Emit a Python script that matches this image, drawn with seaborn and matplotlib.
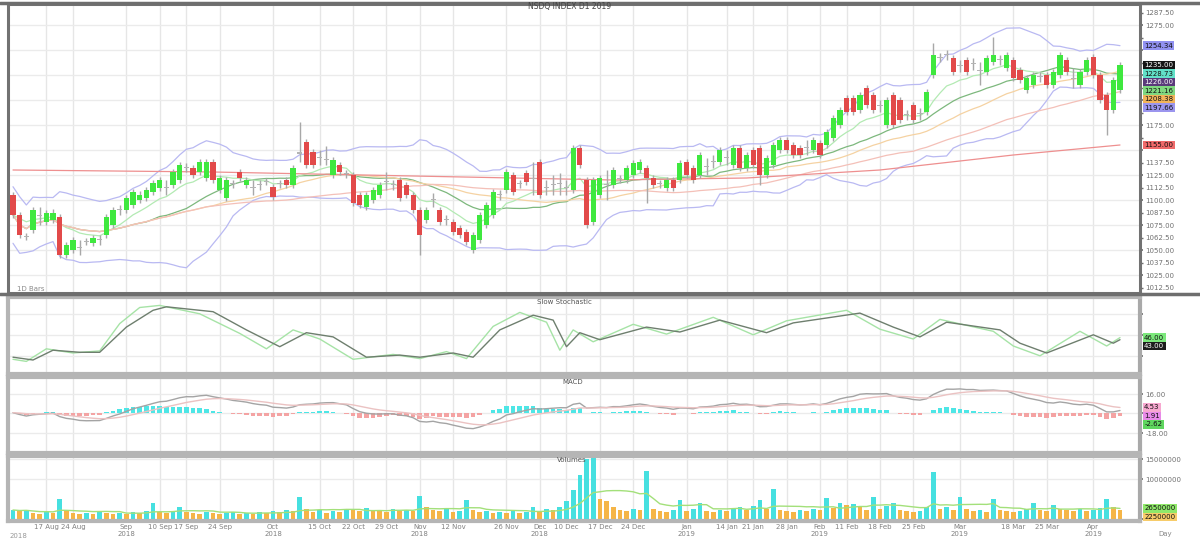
import numpy as np
import pandas as pd
import matplotlib
matplotlib.use("Agg")
import matplotlib.pyplot as plt
from matplotlib.lines import Line2D
import seaborn as sns

sns.set_theme(style="white")
plt.rcParams['font.family'] = ['DejaVu Sans']

# daily OHLC (one value per trading day)
open_ = [1105, 1085, 1063, 1070, 1084, 1078, 1080, 1083, 1045, 1050,
         1052, 1058, 1057, 1060, 1065, 1075, 1090, 1090, 1095, 1100,
         1102, 1108, 1112, 1112, 1115, 1120, 1132, 1132, 1128, 1122,
         1138, 1110, 1102, 1116, 1128, 1115, 1112, 1115, 1118, 1113,
         1116, 1120, 1115, 1146, 1158, 1148, 1142, 1140, 1125, 1135,
         1126, 1125, 1105, 1093, 1100, 1105, 1118, 1115, 1120, 1115,
         1105, 1090, 1080, 1100, 1090, 1080, 1078, 1072, 1068, 1050,
         1060, 1075, 1085, 1105, 1110, 1125, 1116, 1127, 1121, 1138,
         1112, 1115, 1116, 1112, 1110, 1152, 1120, 1078, 1105, 1115,
         1115, 1121, 1120, 1125, 1130, 1132, 1122, 1116, 1112, 1120,
         1120, 1138, 1132, 1125, 1133, 1138, 1138, 1142, 1135, 1152,
         1132, 1150, 1152, 1125, 1135, 1150, 1160, 1155, 1152, 1152,
         1150, 1157, 1155, 1162, 1175, 1202, 1202, 1190, 1212, 1205,
         1194, 1175, 1205, 1200, 1185, 1195, 1186, 1188, 1225, 1242,
         1245, 1242, 1234, 1240, 1236, 1229, 1228, 1238, 1240, 1232,
         1240, 1230, 1210, 1215, 1223, 1225, 1215, 1225, 1240, 1221,
         1215, 1228, 1243, 1225, 1205, 1190, 1210]
high = [1108, 1088, 1067, 1093, 1093, 1090, 1091, 1086, 1058, 1063,
        1060, 1062, 1065, 1065, 1086, 1093, 1095, 1105, 1111, 1109,
        1113, 1120, 1123, 1120, 1131, 1138, 1137, 1135, 1141, 1141,
        1141, 1125, 1123, 1120, 1131, 1123, 1120, 1120, 1122, 1116,
        1120, 1123, 1135, 1178, 1161, 1151, 1150, 1154, 1143, 1138,
        1130, 1128, 1108, 1108, 1113, 1118, 1128, 1120, 1123, 1118,
        1108, 1093, 1093, 1107, 1093, 1085, 1081, 1075, 1071, 1068,
        1088, 1098, 1111, 1110, 1131, 1128, 1120, 1130, 1138, 1141,
        1120, 1125, 1127, 1120, 1155, 1155, 1123, 1123, 1125, 1130,
        1133, 1125, 1135, 1140, 1141, 1135, 1125, 1120, 1123, 1123,
        1140, 1141, 1135, 1148, 1142, 1145, 1153, 1150, 1155, 1155,
        1148, 1153, 1155, 1145, 1158, 1163, 1163, 1158, 1155, 1160,
        1163, 1160, 1171, 1185, 1193, 1205, 1205, 1208, 1215, 1208,
        1200, 1203, 1208, 1203, 1190, 1198, 1192, 1211, 1257, 1247,
        1250, 1245, 1240, 1243, 1242, 1238, 1245, 1263, 1245, 1248,
        1243, 1233, 1225, 1228, 1228, 1228, 1231, 1248, 1243, 1232,
        1231, 1243, 1246, 1228, 1208, 1223, 1238]
low = [1082, 1062, 1060, 1067, 1075, 1075, 1077, 1042, 1042, 1047,
       1045, 1055, 1054, 1055, 1062, 1072, 1085, 1087, 1092, 1097,
       1099, 1105, 1109, 1105, 1112, 1117, 1128, 1122, 1125, 1119,
       1117, 1107, 1099, 1112, 1119, 1112, 1105, 1110, 1115, 1100,
       1112, 1112, 1112, 1138, 1132, 1132, 1135, 1135, 1122, 1125,
       1122, 1094, 1092, 1090, 1097, 1102, 1110, 1110, 1099, 1102,
       1087, 1045, 1077, 1093, 1075, 1075, 1065, 1062, 1055, 1047,
       1057, 1072, 1082, 1100, 1107, 1105, 1112, 1115, 1105, 1102,
       1105, 1105, 1105, 1105, 1107, 1132, 1072, 1075, 1102, 1100,
       1112, 1117, 1117, 1122, 1127, 1097, 1112, 1112, 1109, 1109,
       1117, 1122, 1117, 1122, 1125, 1132, 1135, 1135, 1132, 1129,
       1129, 1132, 1115, 1122, 1132, 1147, 1147, 1142, 1142, 1145,
       1147, 1142, 1152, 1159, 1172, 1185, 1185, 1187, 1192, 1187,
       1188, 1172, 1172, 1177, 1180, 1177, 1180, 1185, 1222, 1238,
       1240, 1225, 1228, 1225, 1230, 1215, 1225, 1235, 1235, 1229,
       1219, 1217, 1207, 1212, 1218, 1212, 1212, 1222, 1225, 1212,
       1212, 1225, 1222, 1197, 1165, 1187, 1207]
close = [1085, 1065, 1064, 1090, 1085, 1087, 1087, 1045, 1055, 1060,
         1053, 1059, 1062, 1061, 1083, 1090, 1091, 1102, 1108, 1105,
         1110, 1117, 1120, 1113, 1128, 1135, 1133, 1125, 1138, 1138,
         1120, 1122, 1120, 1117, 1122, 1120, 1113, 1116, 1119, 1103,
         1117, 1115, 1132, 1148, 1135, 1135, 1143, 1141, 1140, 1128,
         1127, 1097, 1095, 1105, 1110, 1115, 1119, 1116, 1102, 1105,
         1090, 1065, 1090, 1101, 1078, 1081, 1068, 1065, 1058, 1065,
         1085, 1095, 1108, 1106, 1128, 1108, 1117, 1118, 1122, 1105,
         1113, 1116, 1117, 1113, 1152, 1135, 1075, 1120, 1122, 1116,
         1130, 1122, 1132, 1137, 1138, 1122, 1115, 1117, 1120, 1112,
         1137, 1125, 1120, 1145, 1134, 1139, 1150, 1143, 1152, 1132,
         1145, 1135, 1125, 1142, 1155, 1160, 1150, 1145, 1145, 1153,
         1160, 1145, 1168, 1182, 1190, 1188, 1188, 1205, 1195, 1190,
         1195, 1200, 1175, 1180, 1186, 1180, 1187, 1208, 1245, 1243,
         1246, 1228, 1235, 1228, 1237, 1230, 1242, 1245, 1241, 1245,
         1222, 1220, 1222, 1225, 1224, 1215, 1228, 1245, 1228, 1222,
         1228, 1240, 1225, 1200, 1190, 1220, 1235]
# volume in thousands
volume_k = [2250, 2000, 2250, 1500, 1250, 1750, 1500, 5000, 2000, 1500,
            1250, 1500, 1250, 1750, 1500, 1250, 1500, 1250, 1750, 1500,
            2000, 4000, 1750, 1500, 2000, 3000, 1750, 1500, 1250, 1750,
            1500, 1250, 1500, 1750, 1250, 1500, 1250, 1750, 1500, 2000,
            1750, 2250, 2000, 5500, 2500, 1750, 2250, 1500, 2000, 1750,
            2500, 2250, 2000, 2750, 2250, 2000, 1750, 2500, 2000, 2250,
            2000, 5750, 3000, 2250, 2000, 2500, 1750, 2000, 4750, 2250,
            1750, 2000, 1500, 1750, 1500, 2000, 1500, 1750, 3000, 2000,
            2500, 2250, 3000, 4500, 7250, 11000, 15000, 15500, 5000, 4500,
            3000, 2250, 2000, 2500, 2250, 12000, 2500, 2000, 1750, 2250,
            4750, 2000, 2500, 4000, 2000, 1750, 2250, 2000, 2500, 3000,
            2250, 3250, 4750, 2500, 7500, 2250, 2000, 1750, 2250, 2000,
            2500, 2250, 5250, 2750, 4000, 3500, 3750, 3000, 2250, 5500,
            2500, 3250, 4000, 2250, 2000, 1750, 2000, 3000, 11750, 2500,
            3000, 2250, 5500, 2500, 2000, 2250, 1750, 5000, 2250, 2000,
            1750, 2000, 2500, 4000, 2250, 2000, 3500, 2500, 2250, 2000,
            2500, 2000, 2250, 2750, 5000, 3000, 2250]

# long moving average (its history lies before the visible window)
long_ma_pos = [0, 30, 60, 90, 110, 130, 150, 166]
long_ma_val = [1130, 1128, 1124, 1120, 1122, 1130, 1145, 1155]

# slow stochastic (bar index -> value)
stoch_k_pos = [0, 3, 6, 10, 13, 17, 21, 23, 30, 35, 40, 44, 48, 53, 58, 61, 66, 69, 73,
               78, 81, 83, 85, 88, 95, 100, 106, 113, 117, 127, 132, 136, 140, 148,
               151, 155, 162, 165, 166]
stoch_k = [18, 14, 28, 25, 25, 61, 85, 90, 83, 57, 33, 53, 47, 18, 21, 18, 24, 18, 57,
           78, 71, 33, 53, 43, 61, 54, 71, 53, 67, 81, 61, 47, 68, 57,
           38, 24, 50, 38, 43]
stoch_d_pos = [0, 2, 5, 9, 13, 16, 19, 22, 28, 34, 38, 42, 46, 51, 57, 61, 65, 68, 72,
               76, 80, 82, 84, 87, 93, 98, 105, 111, 116, 125, 130, 135, 139, 147,
               150, 154, 160, 164, 166]
stoch_d = [15, 12, 30, 24, 27, 66, 89, 92, 80, 52, 30, 57, 44, 15, 22, 16, 26, 16, 62,
           82, 68, 28, 57, 40, 65, 51, 75, 50, 70, 85, 58, 44, 72, 55,
           34, 20, 55, 34, 46]

# date axis (trading-day index -> label)
tick_pos = [5, 9, 17, 22, 26, 31, 39, 46, 51, 56, 61, 66, 74, 79, 83, 88, 93,
            101, 107, 111, 116, 121, 125, 130, 135, 142, 150, 155, 162]
tick_labels = ["17 Aug", "24 Aug", "Sep\n2018", "10 Sep", "17 Sep", "24 Sep",
               "Oct\n2018", "15 Oct", "22 Oct", "29 Oct", "Nov\n2018", "12 Nov",
               "26 Nov", "Dec\n2018", "10 Dec", "17 Dec", "24 Dec", "Jan\n2019",
               "14 Jan", "21 Jan", "28 Jan", "Feb\n2019", "11 Feb", "18 Feb",
               "25 Feb", "Mar\n2019", "18 Mar", "25 Mar", "Apr\n2019"]

df = pd.DataFrame({'open': open_, 'high': high, 'low': low,
                   'close': close, 'volume': np.array(volume_k) * 1000})
df['i'] = np.arange(len(df))
c = df['close']

# indicators
df['bb_mid'] = c.rolling(20, min_periods=1).mean()
sd = c.rolling(20, min_periods=2).std().bfill()
df['bb_up'] = df['bb_mid'] + 2 * sd
df['bb_lo'] = df['bb_mid'] - 2 * sd
df['ema10'] = c.ewm(span=10, adjust=False).mean()
df['sma30'] = c.rolling(30, min_periods=1).mean()
df['sma50'] = c.rolling(50, min_periods=1).mean()

df['macd'] = c.ewm(span=12, adjust=False).mean() - c.ewm(span=26, adjust=False).mean()
df['signal'] = df['macd'].ewm(span=9, adjust=False).mean()
df['hist'] = df['macd'] - df['signal']
df['vol_ma'] = df['volume'].rolling(10, min_periods=1).mean()

# figure
fig = plt.figure(figsize=(12, 5.41), dpi=100)
LEFT, WIDTH = 8 / 1200, 1132 / 1200


def box(top, bot):
    return [LEFT, 1 - bot / 541, WIDTH, (bot - top) / 541]


ax_p = fig.add_axes(box(4, 293))
ax_s = fig.add_axes(box(297, 374), sharex=ax_p)
ax_m = fig.add_axes(box(377, 453), sharex=ax_p)
ax_v = fig.add_axes(box(456, 521), sharex=ax_p)

GREEN, RED, GREY = '#3fe83f', '#e24a4a', '#b4b4b4'
TICK_COL = '#707070'

# candles
body_col = np.where((df['close'] - df['open']).abs() <= 2, GREY,
                    np.where(df['close'] > df['open'], GREEN, RED))
ax_p.vlines(df['i'], df['low'], df['high'], color='#a8a8a8', lw=1, zorder=3)
ax_p.bar(df['i'], (df['close'] - df['open']).abs().clip(lower=1.5),
         bottom=np.minimum(df['open'], df['close']), width=0.78,
         color=body_col, edgecolor='none', zorder=4)

line_styles = [('bb_up', '#b9b9f2'), ('bb_lo', '#b9b9f2'), ('bb_mid', '#7db87d'),
               ('ema10', '#b3eab3'), ('sma30', '#f5d2a2'), ('sma50', '#f4c0b8')]
for col, colr in line_styles:
    sns.lineplot(x=df['i'], y=df[col], ax=ax_p, color=colr, lw=0.9, legend=False, zorder=2)
sns.lineplot(x=long_ma_pos, y=long_ma_val, ax=ax_p, color='#ee8f8f', lw=0.9, legend=False, zorder=2)
ax_p.set_ylim(1007, 1296)

# stochastic
sns.lineplot(x=stoch_d_pos, y=stoch_d, ax=ax_s, color='#a6e3a6', lw=1, legend=False)
sns.lineplot(x=stoch_k_pos, y=stoch_k, ax=ax_s, color='#6e7f6e', lw=1, legend=False)
ax_s.set_ylim(-6, 104)

# MACD
hist_col = np.where(df['hist'] >= 0, '#4ee6e6', '#f4a3a3')
ax_m.bar(df['i'], df['hist'], width=0.7, color=hist_col, edgecolor='none')
sns.lineplot(x=df['i'], y=df['macd'], ax=ax_m, color='#a4a4a4', lw=1, legend=False)
sns.lineplot(x=df['i'], y=df['signal'], ax=ax_m, color='#ebc2c2', lw=1, legend=False)
ax_m.set_ylim(-35, 31)

# volume
vol_col = np.where(df['volume'].diff().fillna(1) >= 0, '#46e0e0', '#f5b547')
ax_v.bar(df['i'], df['volume'], width=0.7, color=vol_col, edgecolor='none')
sns.lineplot(x=df['i'], y=df['vol_ma'], ax=ax_v, color='#a3e07a', lw=1, legend=False)
ax_v.set_ylim(-0.5e6, 15.75e6)

# shared styling
ax_p.set_xlim(-0.75, 169)
for ax in (ax_p, ax_s, ax_m, ax_v):
    ax.set_xticks(tick_pos)
    ax.grid(axis='x', color='#e6e6e6', lw=1)
    ax.yaxis.tick_right()
    ax.tick_params(axis='y', which='both', labelsize=5, colors=TICK_COL, length=2, pad=2)
    ax.set_xlabel('')
    ax.set_ylabel('')
    ax.set_facecolor('white')
    for s in ax.spines.values():
        s.set_color('#b5b5b5')
        s.set_linewidth(3)
    ax.spines['right'].set_color('#a9a9a9')
for s in ax_p.spines.values():
    s.set_color('#727272')
    s.set_linewidth(2.2)
for ax in (ax_p, ax_s, ax_m):
    ax.tick_params(axis='x', labelbottom=False, length=0)
ax_v.set_xticklabels(tick_labels)
ax_v.tick_params(axis='x', labelsize=5, colors='#808080', length=0, pad=2)


def tags(ax, items, gap_px=8.5):
    # last-value boxes on the price scale, pushed apart so they stack
    pts = []
    for y, text, fc, tc in items:
        py = ax.transData.transform((0, y))[1]
        pts.append([py, py, y, text, fc, tc])
    pts.sort(key=lambda p: -p[0])
    for k in range(1, len(pts)):
        if pts[k - 1][1] - pts[k][1] < gap_px:
            pts[k][1] = pts[k - 1][1] - gap_px
    for py0, py, y, text, fc, tc in pts:
        ax.annotate(text, xy=(1, y), xycoords=ax.get_yaxis_transform(),
                    xytext=(3, (py - py0) * 0.72), textcoords='offset points',
                    fontsize=5, color=tc, va='center', ha='left', annotation_clip=False,
                    bbox=dict(boxstyle='square,pad=0.2', fc=fc, ec='none'))
    return [p[1] for p in pts]


def scale_labels(ax, values, fmt, taken, minor=False, clear=8.5, grid=True):
    # price-scale labels, left blank where a value box already sits
    labels = []
    for v in values:
        py = ax.transData.transform((0, v))[1]
        labels.append('' if any(abs(py - t) < clear for t in taken) else fmt(v))
    ax.set_yticks(values, minor=minor)
    ax.set_yticklabels(labels, minor=minor)
    if grid:
        ax.grid(axis='y', which='minor' if minor else 'major', color='#ebebeb', lw=1)


last = df.iloc[-1]
p_tags = tags(ax_p, [(last['bb_up'], f"{last['bb_up']:.2f}", '#9191f0', '#111111'),
                     (last['close'], f"{last['close']:.2f}", '#151515', 'white'),
                     (last['ema10'], f"{last['ema10']:.2f}", '#80d880', '#111111'),
                     (last['bb_mid'], f"{last['bb_mid']:.2f}", '#5a3a7a', 'white'),
                     (last['sma30'], f"{last['sma30']:.2f}", '#62e0c8', '#111111'),
                     (last['sma50'], f"{last['sma50']:.2f}", '#f2b45a', '#111111'),
                     (last['bb_lo'], f"{last['bb_lo']:.2f}", '#9b95ee', '#111111'),
                     (long_ma_val[-1], f"{long_ma_val[-1]:.2f}", '#ef6a6a', '#111111')])
s_tags = tags(ax_s, [(stoch_d[-1], f"{stoch_d[-1]:.2f}", '#7ce87c', '#111111'),
                     (stoch_k[-1], f"{stoch_k[-1]:.2f}", '#1d1d1d', 'white')])
m_tags = tags(ax_m, [(last['signal'], f"{last['signal']:.2f}", '#f7a8d0', '#111111'),
                     (last['macd'], f"{last['macd']:.2f}", '#e88ae8', '#111111'),
                     (last['hist'], f"{last['hist']:.2f}", '#5fd65f', '#111111')])
v_tags = tags(ax_v, [(last['vol_ma'], f"{last['vol_ma']:.0f}", '#8fe86a', '#111111'),
                     (last['volume'], f"{last['volume']:.0f}", '#f7cc6a', '#111111')])

price_major = np.arange(1025, 1296, 25)
price_minor = np.arange(1012.5, 1296, 25)
scale_labels(ax_p, price_major, lambda v: f"{v:.2f}", p_tags)
scale_labels(ax_p, price_minor, lambda v: f"{v:.2f}", p_tags, minor=True, grid=False)
scale_labels(ax_s, [20, 50, 80], lambda v: '', s_tags)
scale_labels(ax_m, [-18, 0, 16], lambda v: '' if v == 0 else f"{v:.2f}", m_tags)
scale_labels(ax_v, [0, 10e6, 15e6], lambda v: f"{v:.0f}", v_tags, clear=7)

# captions
fig.text(570 / 1200, 1 - 6 / 541, "NSDQ INDEX D1 2019", fontsize=5.5, color='#444444',
         ha='center', va='center')
fig.text(564 / 1200, 1 - 302 / 541, "Slow Stochastic", fontsize=5, color='#555555',
         ha='center', va='center')
fig.text(573 / 1200, 1 - 382 / 541, "MACD", fontsize=5, color='#555555',
         ha='center', va='center')
fig.text(572 / 1200, 1 - 460 / 541, "Volumes", fontsize=5, color='#555555',
         ha='center', va='center')
fig.text(17 / 1200, 1 - 289 / 541, "1D Bars", fontsize=5, color='#888888',
         ha='left', va='center')
fig.text(1165 / 1200, 1 - 534 / 541, "Day", fontsize=5, color='#888888',
         ha='center', va='center')
fig.text(18 / 1200, 1 - 536 / 541, "2018", fontsize=5, color='#999999',
         ha='center', va='center')

# frame lines across the full width
for yy, colr, lw in [(2.5, '#6e6e6e', 2.5), (294, '#6e6e6e', 2.5)]:
    fig.add_artist(Line2D([0, 1], [1 - yy / 541] * 2, color=colr, lw=lw))

fig.savefig('out.png', dpi=100, facecolor='white')
